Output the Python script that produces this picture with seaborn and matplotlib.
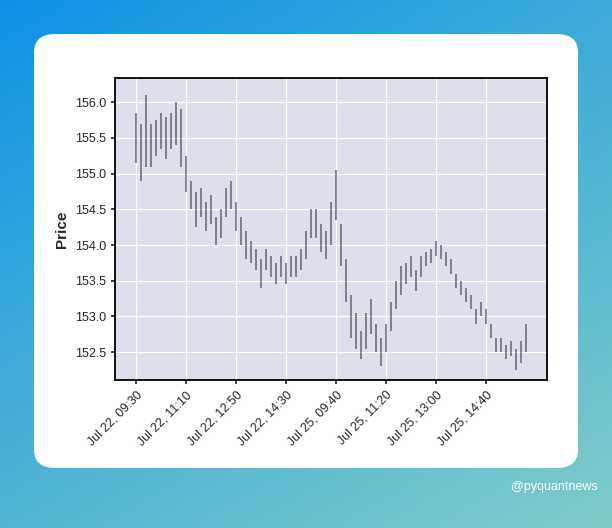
import numpy as np
import pandas as pd
import matplotlib
matplotlib.use("Agg")
import matplotlib.pyplot as plt
import seaborn as sns
from matplotlib.patches import FancyBboxPatch

# 10-minute mid prices (minute index = position * 10)
jul22_mid = [155.5, 155.3, 155.6, 155.4, 155.5, 155.6, 155.5, 155.6, 155.7, 155.5,
             155.0, 154.7, 154.5, 154.6, 154.4, 154.5, 154.2, 154.3, 154.6, 154.7,
             154.4, 154.2, 154.0, 153.9, 153.8, 153.6, 153.8, 153.7, 153.6, 153.7,
             153.6, 153.7, 153.7, 153.8, 154.0, 154.3, 154.3, 154.1, 154.0]
jul25_mid = [154.3, 154.7, 154.0, 153.5, 153.0, 152.8, 152.6, 152.8, 153.0, 152.7,
             152.5, 152.7, 153.0, 153.3, 153.5, 153.6, 153.7, 153.5, 153.7, 153.8,
             153.85, 153.95, 153.9, 153.8, 153.7, 153.5, 153.4, 153.3, 153.2, 153.0,
             153.1, 153.0, 152.8, 152.6, 152.6, 152.5, 152.55, 152.4, 152.5, 152.7]
jul22_spread = [0.35, 0.4, 0.5, 0.3, 0.25, 0.25, 0.3, 0.25, 0.3, 0.4,
                0.25, 0.2, 0.25, 0.2, 0.2, 0.2, 0.2, 0.2, 0.2, 0.2,
                0.2, 0.2, 0.2, 0.15, 0.15, 0.2, 0.15, 0.15, 0.15, 0.15,
                0.15, 0.15, 0.15, 0.15, 0.2, 0.2, 0.2, 0.2, 0.2]
jul25_spread = [0.3, 0.35, 0.3, 0.3, 0.3, 0.25, 0.2, 0.25, 0.25, 0.2,
                0.2, 0.2, 0.2, 0.2, 0.2, 0.15, 0.15, 0.15, 0.15, 0.1,
                0.1, 0.1, 0.1, 0.1, 0.1, 0.1, 0.1, 0.1, 0.1, 0.1,
                0.1, 0.1, 0.1, 0.1, 0.1, 0.1, 0.1, 0.15, 0.15, 0.2]
tick_labels = ["Jul 22, 09:30", "Jul 22, 11:10", "Jul 22, 12:50", "Jul 22, 14:30",
               "Jul 25, 09:40", "Jul 25, 11:20", "Jul 25, 13:00", "Jul 25, 14:40"]

mid = np.array(jul22_mid + jul25_mid)
spread = np.array(jul22_spread + jul25_spread)
df = pd.DataFrame({"idx": np.arange(len(mid)) * 10, "low": mid - spread, "high": mid + spread})

sns.set_theme(style="darkgrid")
plt.rcParams['font.family'] = ['Liberation Sans', 'DejaVu Sans']

fig = plt.figure(figsize=(6.12, 5.28), dpi=100)
bg = fig.add_axes([0, 0, 1, 1])
grad = np.linspace(0, 1, 256)
gx, gy = np.meshgrid(grad, grad)
t = (gx * 0.4 + gy * 0.6)
c0 = np.array([0x0e, 0x93, 0xe6]) / 255
c1 = np.array([0x80, 0xcc, 0xc8]) / 255
img = c0[None, None, :] * (1 - t[..., None]) + c1[None, None, :] * t[..., None]
bg.imshow(img, aspect="auto", extent=[0, 1, 0, 1], origin="upper")
bg.add_patch(FancyBboxPatch((34 / 612, 60 / 528), 544 / 612, 434 / 528,
                            boxstyle="round,pad=0,rounding_size=0.035",
                            transform=bg.transAxes, facecolor="white", edgecolor="none"))
bg.set_xlim(0, 1)
bg.set_ylim(0, 1)
bg.axis("off")
bg.text(0.977, 0.077, "@pyquantnews", transform=bg.transAxes, ha="right", va="center",
        color="white", fontsize=9)

ax = fig.add_axes([115 / 612, 1 - 380 / 528, 432 / 612, 302 / 528])
ax.set_facecolor("#dce0ed")
ax.vlines(df["idx"], df["low"], df["high"], color="black", alpha=0.5, linewidth=1.2)
ax.set_xlim(-42, 822)
ax.set_ylim(152.11, 156.34)
ax.set_xticks(np.arange(len(tick_labels)) * 100)
ax.set_xticklabels(tick_labels, rotation=45, ha="right", rotation_mode="anchor", fontsize=9)
ax.tick_params(axis="y", labelsize=9, length=3, left=True)
ax.tick_params(axis="x", length=3, bottom=True)
ax.set_yticks([152.5, 153.0, 153.5, 154.0, 154.5, 155.0, 155.5, 156.0])
ax.yaxis.set_major_formatter(matplotlib.ticker.FormatStrFormatter("%.1f"))
ax.set_ylabel("Price", fontsize=11, fontweight="bold")
ax.grid(color="white", linewidth=0.9)
for s in ax.spines.values():
    s.set_visible(True)
    s.set_color("black")
    s.set_linewidth(1.3)

fig.savefig("out.png", dpi=100)
